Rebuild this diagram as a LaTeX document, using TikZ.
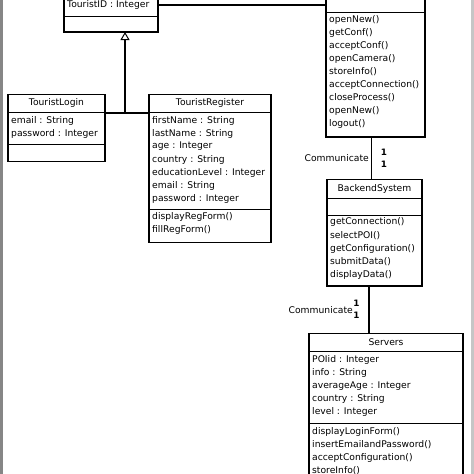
\documentclass[tikz,border=0pt]{standalone}
\usepackage{fontspec}
\setmainfont{DejaVu Sans}
\usetikzlibrary{arrows.meta}
\begin{document}
\begin{tikzpicture}[x=1pt,y=-1pt,
  cls/.style={draw=black, line width=1.1pt, fill=white, inner sep=0pt, outer sep=0pt, anchor=north west},
  sepline/.style={line width=0.9pt},
  txt/.style={anchor=west, inner sep=0pt, font=\fontsize{9.2}{10}\selectfont},
  ttl/.style={anchor=center, inner sep=0pt, font=\fontsize{9.2}{10}\selectfont},
  conn/.style={line width=1.8pt},
  mult/.style={inner sep=0pt, font=\fontsize{8.8}{9}\bfseries\selectfont}]
\useasboundingbox (0,0) rectangle (474,474);
\clip (0,0) rectangle (474,474);
\fill[gray!95] (0,0) rectangle (2.5,474);
\fill[gray!45] (471,0) rectangle (474,474);

% Tourist (top-left, cut off)
\node[cls, minimum width=94pt, minimum height=52pt] (tourist) at (64,-20) {};
\draw[sepline] (64,16) -- (158,16);
\node[txt] at (67,5) {TouristID : Integer};

% App (top-right, cut off)
\node[cls, minimum width=99pt, minimum height=177pt] (app) at (326,-40) {};
\draw[sepline] (326,12.7) -- (425,12.7);
\foreach \t [count=\i from 0] in {openNew(),getConf(),acceptConf(),openCamera(),storeInfo(),acceptConnection(),closeProcess(),openNew(),logout()}
  \node[txt] at (329,20+13*\i) {\t};

% association Tourist -- App
\coordinate (ta) at (158,5);
\coordinate (tb) at (326,5);
\draw[line width=1.2pt] (ta) -- (tb);

% TouristLogin
\node[cls, minimum width=97pt, minimum height=67.4pt] (login) at (8,94.3) {};
\draw[sepline] (8,112.3) -- (105,112.3);
\draw[sepline] (8,144.3) -- (105,144.3);
\node[ttl] at (56.5,102.5) {TouristLogin};
\node[txt] at (11,120.5) {email : String};
\node[txt] at (11,133.5) {password : Integer};

% TouristRegister
\node[cls, minimum width=122pt, minimum height=148pt] (reg) at (149,94.3) {};
\draw[sepline] (149,112.3) -- (271,112.3);
\draw[sepline] (149,209.3) -- (271,209.3);
\node[ttl] at (210,102.5) {TouristRegister};
\foreach \t [count=\i from 0] in {firstName : String,lastName : String,age : Integer,country : String,educationLevel : Integer,email : String,password : Integer}
  \node[txt] at (152,120.5+13*\i) {\t};
\node[txt] at (152,217) {displayRegForm()};
\node[txt] at (152,230) {fillRegForm()};

% Generalization
\coordinate (gen) at (125,112.7);
\draw[conn] (login.east |- gen) -- (reg.west |- gen);
\draw[conn, -{Triangle[open, length=8pt, width=9pt, line width=1pt]}, shorten >=-0.5pt] (gen) -- (125,32.5);

% BackendSystem
\node[cls, minimum width=95pt, minimum height=106.7pt] (back) at (327,179.3) {};
\draw[sepline] (327,198.3) -- (422,198.3);
\draw[sepline] (327,215) -- (422,215);
\node[ttl] at (374.5,188.5) {BackendSystem};
\foreach \t [count=\i from 0] in {getConnection(),selectPOI(),getConfiguration(),submitData(),displayData()}
  \node[txt] at (330,222+13.3*\i) {\t};

% App -- Backend
\draw[conn] (371.5,136.7) -- (371.5,179.3);
\node[anchor=east, inner sep=0pt, font=\fontsize{9.2}{10}\selectfont] at (369,158) {Communicate};
\node[mult] at (384,152) {1};
\node[mult] at (384,164) {1};

% Servers
\node[cls, minimum width=154pt, minimum height=170pt] (serv) at (309,333.3) {};
\draw[sepline] (309,351.7) -- (463.3,351.7);
\draw[sepline] (309,423.3) -- (463.3,423.3);
\node[ttl] at (386,342) {Servers};
\foreach \t [count=\i from 0] in {POIid : Integer,info : String,averageAge : Integer,country : String,level : Integer}
  \node[txt] at (312,360+13*\i) {\t};
\foreach \t [count=\i from 0] in {displayLoginForm(),insertEmailandPassword(),acceptConfiguration(),storeInfo()}
  \node[txt] at (312,432+12.8*\i) {\t};

% Backend -- Servers
\draw[conn] (369,286) -- (369,333.3);
\node[anchor=east, inner sep=0pt, font=\fontsize{9.2}{10}\selectfont] at (353,310) {Communicate};
\node[mult] at (356.5,303.5) {1};
\node[mult] at (356.5,315.5) {1};
\end{tikzpicture}
\end{document}
